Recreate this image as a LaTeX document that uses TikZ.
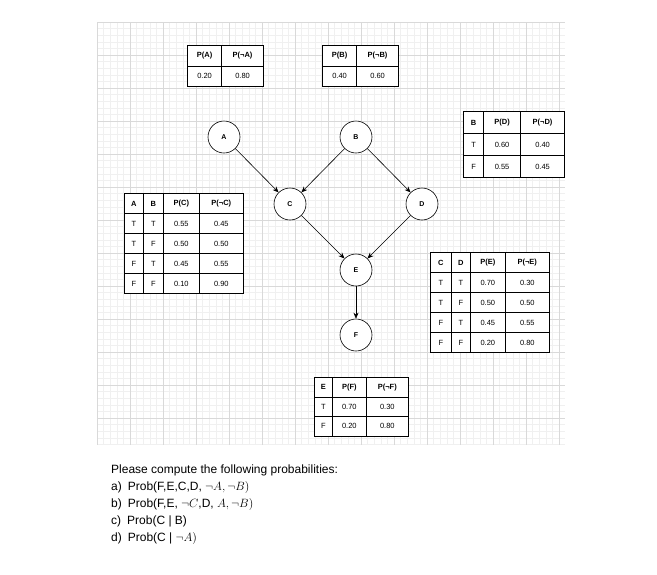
\documentclass[tikz,border=0pt]{standalone}
\usepackage{fontspec}
\setmainfont{Liberation Sans}
\usetikzlibrary{matrix,arrows.meta}
\begin{document}
\begin{tikzpicture}[x=1pt,y=-1pt,
  bn/.style={circle,draw,line width=0.6pt,minimum size=32pt,inner sep=0pt,font=\fontsize{7}{8}\selectfont\bfseries,fill=white},
  edge/.style={-{Stealth[length=6pt,width=5pt]},line width=0.6pt},
  cpt/.style={matrix of nodes,inner sep=0pt,column sep=-0.7pt,row sep=-0.7pt,fill=white,
    nodes={draw,line width=0.7pt,inner sep=0pt,font=\fontsize{7.5}{8}\selectfont,anchor=center}},
  hd/.style={font=\fontsize{7.5}{8}\selectfont\bfseries}]
\useasboundingbox (0,0) rectangle (657,574);
\fill[white] (0,0) rectangle (657,574);
% grid
\foreach \x in {97,103.6,...,565} \draw[gray!12,line width=0.3pt] (\x,22) -- (\x,445);
\foreach \y in {22,28.6,...,445} \draw[gray!12,line width=0.3pt] (97,\y) -- (565,\y);
\foreach \x in {97,130,...,565} \draw[gray!30,line width=0.4pt] (\x,22) -- (\x,445);
\foreach \y in {22,55,...,445} \draw[gray!30,line width=0.4pt] (97,\y) -- (565,\y);
% nodes
\node[bn] (A) at (224,137) {A};
\node[bn] (B) at (356,137) {B};
\node[bn] (C) at (290,204) {C};
\node[bn] (D) at (422,204) {D};
\node[bn] (E) at (356,270) {E};
\node[bn] (F) at (356,335) {F};
\draw[edge] (A) -- (C);
\draw[edge] (B) -- (C);
\draw[edge] (B) -- (D);
\draw[edge] (C) -- (E);
\draw[edge] (D) -- (E);
\draw[edge] (E) -- (F);
% tables
\matrix (tA) [cpt,anchor=north west,nodes={minimum height=20.5pt},
  column 1/.style={nodes={minimum width=34pt}},column 2/.style={nodes={minimum width=42pt}}] at (187,45)
{ |[hd]| P(A) & |[hd]| P(¬A) \\ 0.20 & 0.80 \\};
\matrix (tB) [cpt,anchor=north west,nodes={minimum height=20.5pt},
  column 1/.style={nodes={minimum width=34pt}},column 2/.style={nodes={minimum width=42pt}}] at (322,45)
{ |[hd]| P(B) & |[hd]| P(¬B) \\ 0.40 & 0.60 \\};
\matrix (tD) [cpt,anchor=north west,nodes={minimum height=22pt},
  column 1/.style={nodes={minimum width=20pt}},column 2/.style={nodes={minimum width=37pt}},
  column 3/.style={nodes={minimum width=44pt}}] at (463,111)
{ |[hd]| B & |[hd]| P(D) & |[hd]| P(¬D) \\ T & 0.60 & 0.40 \\ F & 0.55 & 0.45 \\};
\matrix (tC) [cpt,anchor=north west,nodes={minimum height=20pt},
  column 1/.style={nodes={minimum width=18.5pt}},column 2/.style={nodes={minimum width=20.5pt}},
  column 3/.style={nodes={minimum width=35.5pt}},column 4/.style={nodes={minimum width=44.5pt}}] at (124,193)
{ |[hd]| A & |[hd]| B & |[hd]| P(C) & |[hd]| P(¬C) \\
  T & T & 0.55 & 0.45 \\ T & F & 0.50 & 0.50 \\ F & T & 0.45 & 0.55 \\ F & F & 0.10 & 0.90 \\};
\matrix (tE) [cpt,anchor=north west,nodes={minimum height=20pt},
  column 1/.style={nodes={minimum width=20.5pt}},column 2/.style={nodes={minimum width=19.5pt}},
  column 3/.style={nodes={minimum width=34.5pt}},column 4/.style={nodes={minimum width=44.5pt}}] at (430,252)
{ |[hd]| C & |[hd]| D & |[hd]| P(E) & |[hd]| P(¬E) \\
  T & T & 0.70 & 0.30 \\ T & F & 0.50 & 0.50 \\ F & T & 0.45 & 0.55 \\ F & F & 0.20 & 0.80 \\};
\matrix (tF) [cpt,anchor=north west,nodes={minimum height=19.5pt},
  column 1/.style={nodes={minimum width=17.5pt}},column 2/.style={nodes={minimum width=34.5pt}},
  column 3/.style={nodes={minimum width=41.5pt}}] at (314,377)
{ |[hd]| E & |[hd]| P(F) & |[hd]| P(¬F) \\ T & 0.70 & 0.30 \\ F & 0.20 & 0.80 \\};
% text
\node[anchor=west,font=\fontsize{12}{14}\selectfont,align=left,inner sep=0pt] (q) at (111,470)
  {Please compute the following probabilities:};
\node[anchor=north west,font=\fontsize{12}{17}\selectfont,align=left,inner sep=0pt] (list) at (111,481)
  {a)\enspace Prob(F,E,C,D, $\neg A,\neg B)$\\
   b)\enspace Prob(F,E, $\neg C$,D, $A,\neg B)$\\
   c)\enspace Prob(C | B)\\
   d)\enspace Prob(C | $\neg A)$};
\end{tikzpicture}
\end{document}
